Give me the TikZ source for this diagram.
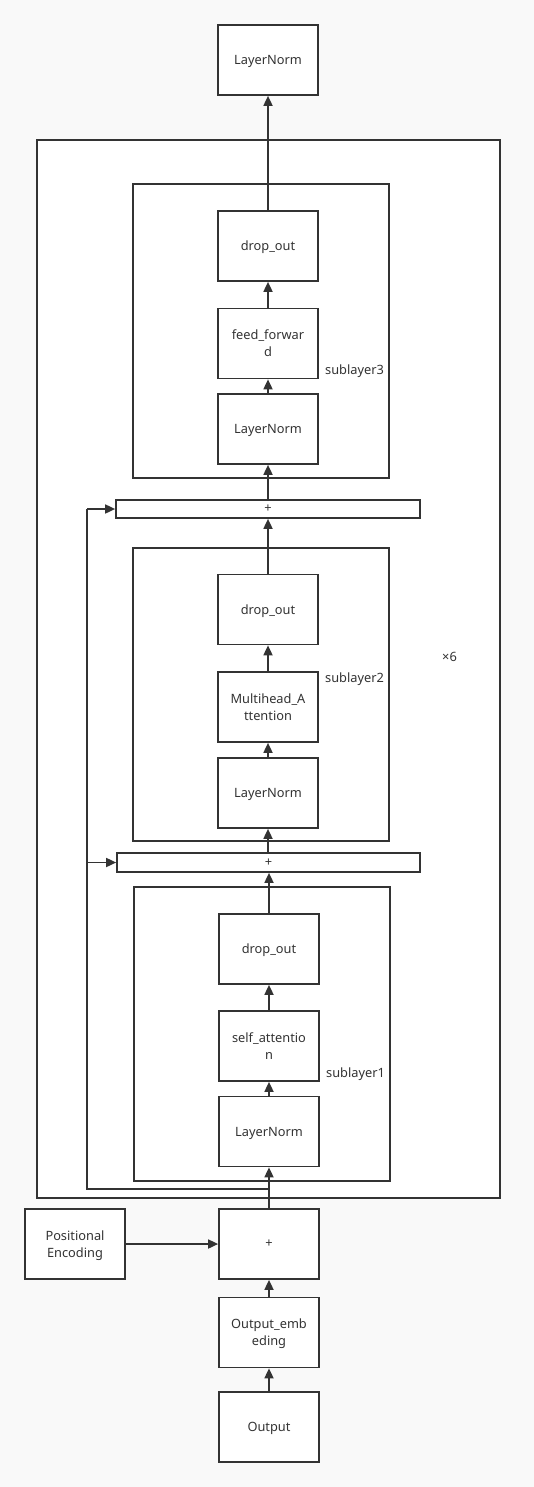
\documentclass[tikz,border=0pt]{standalone}
\usepackage{fontspec}
\setmainfont{Noto Sans}
\usetikzlibrary{arrows.meta}
\definecolor{ln}{HTML}{333333}
\definecolor{bg}{HTML}{F9F9F9}
\tikzset{
  blk/.style={draw=ln, line width=1.7pt, fill=white, minimum width=100pt, minimum height=70pt, inner sep=0pt, align=center, font=\fontsize{12.8}{17}\selectfont, text=ln, text depth=0pt},
  bar/.style={draw=ln, line width=1.7pt, fill=white, inner sep=0pt, font=\fontsize{12.8}{12}\selectfont, text=ln},
  frame/.style={draw=ln, line width=1.7pt},
  conn/.style={draw=ln, line width=1.7pt, -{Triangle[length=10pt,width=9pt]}},
  plain/.style={draw=ln, line width=1.7pt},
  lbl/.style={font=\fontsize{12.8}{14}\selectfont, text=ln, anchor=west, inner sep=0pt}
}
\begin{document}
\begin{tikzpicture}[x=1pt,y=-1pt]
\fill[bg] (0,0) rectangle (534,1487);
\useasboundingbox (0,0) rectangle (534,1487);
% big frame
\draw[frame, fill=white] (37,140) rectangle (500,1198);
% sublayer frames
\draw[frame] (133,184) rectangle (389,478);
\draw[frame] (133,548) rectangle (389,841);
\draw[frame] (134,887) rectangle (390,1181);
% nodes
\node[blk] (lnTop) at (268,60) {LayerNorm};
\node[blk] (do3) at (268,246) {drop\_out};
\node[blk] (ff) at (268,343.5) {feed\_forwar\\d};
\node[blk] (ln3) at (268,429) {LayerNorm};
\node[bar, minimum width=304pt, minimum height=18pt] (bar1) at (268,509) {+};
\node[blk] (do2) at (268,609.5) {drop\_out};
\node[blk] (mha) at (268,707) {Multihead\_A\\ttention};
\node[blk] (ln2) at (268,793) {LayerNorm};
\node[bar, minimum width=303pt, minimum height=19pt] (bar2) at (268.5,862.5) {+};
\node[blk] (do1) at (269,949) {drop\_out};
\node[blk] (sa) at (269,1046) {self\_attentio\\n};
\node[blk] (ln1) at (269,1131.5) {LayerNorm};
\node[blk] (pe) at (75,1244) {Positional\\Encoding};
\node[blk] (plus) at (269,1244) {+};
\node[blk] (emb) at (269,1332.5) {Output\_emb\\eding};
\node[blk] (out) at (269,1427) {Output};
% labels
\node[lbl] (s3) at (325,371) {sublayer3};
\node[lbl] (s2) at (325,679) {sublayer2};
\node[lbl] (s1) at (326,1074) {sublayer1};
\node[lbl] (x6) at (442,657) {×6};
% main connectors
\draw[conn] (out.north) -- (emb.south);
\draw[conn] (emb.north) -- (plus.south);
\draw[conn] (pe.east) -- (plus.west);
\draw[conn] (plus.north) -- (ln1.south);
\draw[conn] (ln1.north) -- (sa.south);
\draw[conn] (sa.north) -- (do1.south);
\draw[conn] (do1.north) -- (do1.north |- bar2.south);
\draw[conn] (ln2.north |- bar2.north) -- (ln2.south);
\draw[conn] (ln2.north) -- (mha.south);
\draw[conn] (mha.north) -- (do2.south);
\draw[conn] (do2.north) -- (do2.north |- bar1.south);
\draw[conn] (ln3.north |- bar1.north) -- (ln3.south);
\draw[conn] (ln3.north) -- (ff.south);
\draw[conn] (ff.north) -- (do3.south);
\draw[conn] (do3.north) -- (lnTop.south);
% residual path
\coordinate (r0) at (269,1189);
\coordinate (rl) at (87,1189);
\coordinate (r2) at (87,862.5);
\coordinate (r1) at (87,509);
\draw[plain] (r0) -- (rl) -- (r1);
\draw[conn] (r1) -- (bar1.west);
\draw[conn] (r2) -- (bar2.west);
\end{tikzpicture}
\end{document}
